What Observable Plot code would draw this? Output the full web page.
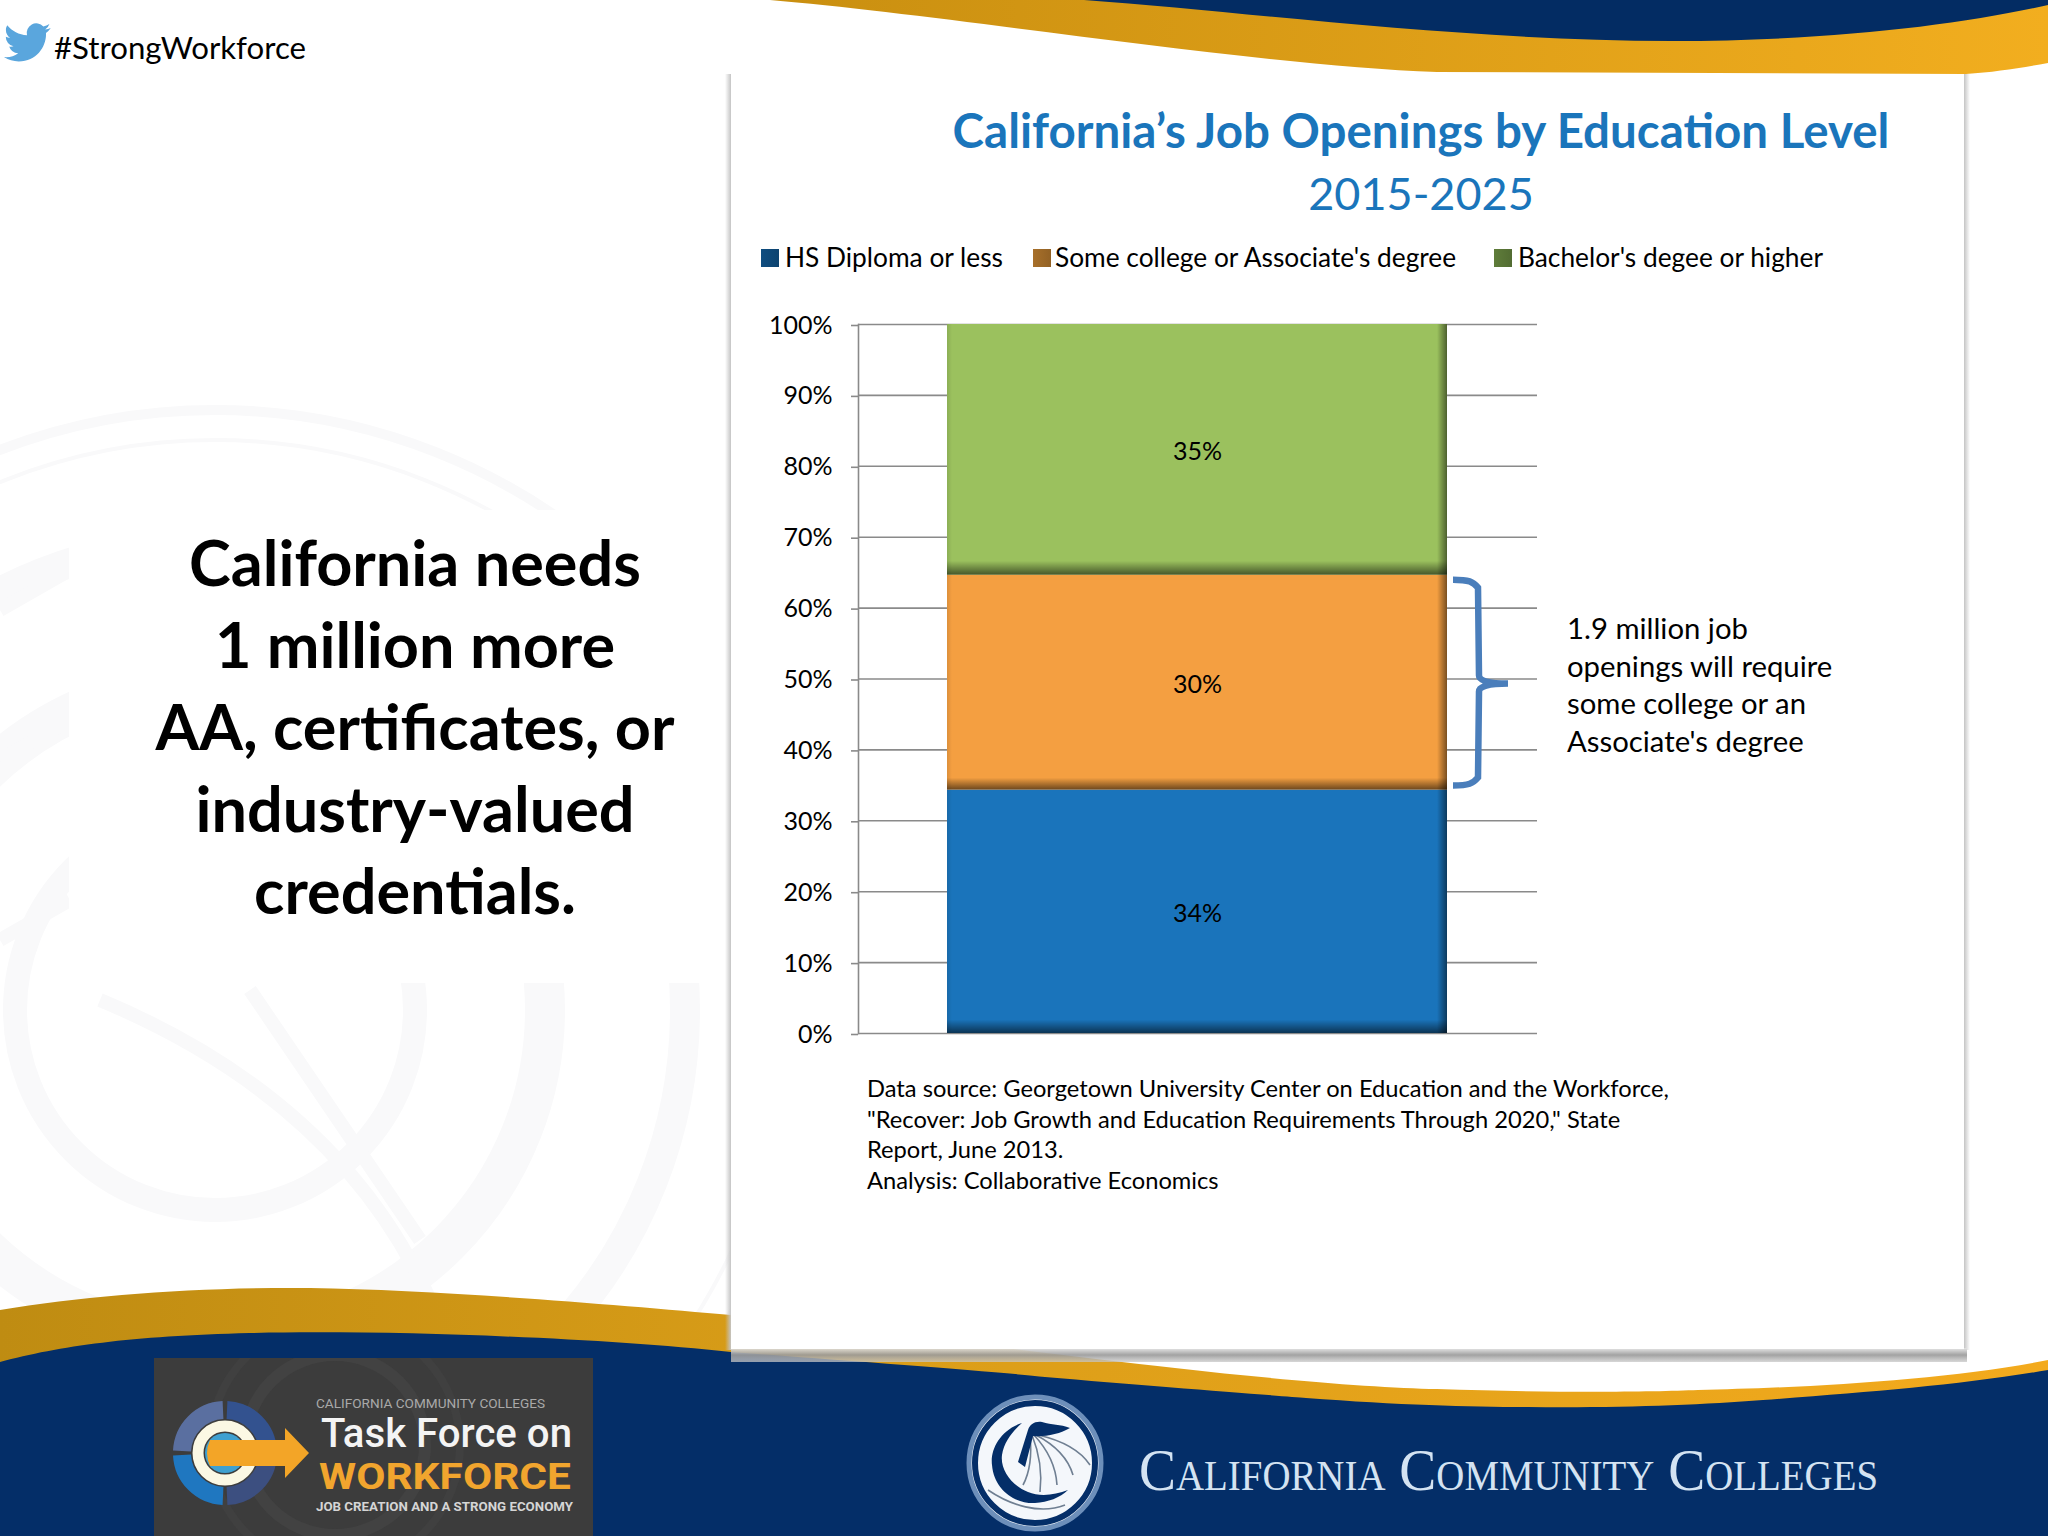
<!DOCTYPE html>
<html>
<head>
<meta charset="utf-8">
<script src="https://cdn.jsdelivr.net/npm/d3@7"></script>
<script src="https://cdn.jsdelivr.net/npm/@observablehq/plot@0.6"></script>
<style>
html,body{margin:0;padding:0;background:#fff;}
#slide{position:relative;width:2048px;height:1536px;overflow:hidden;font-family:Lato,"Open Sans",sans-serif;color:#000;}
#bg{position:absolute;left:0;top:0;}
#chart{position:absolute;left:0;top:0;}
.t{position:absolute;white-space:nowrap;}
#legend div{position:absolute;white-space:nowrap;font-size:26.3px;line-height:32px;top:241px;}
#legend i{position:absolute;top:249px;width:18px;height:18px;}
</style>
</head>
<body>
<div id="slide">
<svg id="bg" width="2048" height="1536" viewBox="0 0 2048 1536">
  <defs>
    <linearGradient id="shadeR" x1="0" x2="1" y1="0" y2="0">
      <stop offset="0.98" stop-color="#000" stop-opacity="0"/>
      <stop offset="1" stop-color="#000" stop-opacity="0.5"/>
    </linearGradient>
    <linearGradient id="shadeL" x1="0" x2="1" y1="0" y2="0">
      <stop offset="0" stop-color="#000" stop-opacity="0.1"/>
      <stop offset="0.01" stop-color="#000" stop-opacity="0"/>
    </linearGradient>
    <linearGradient id="shadeB" x1="0" x2="0" y1="0" y2="1">
      <stop offset="0.945" stop-color="#000" stop-opacity="0"/>
      <stop offset="1" stop-color="#000" stop-opacity="0.55"/>
    </linearGradient>
    <linearGradient id="goldTop" x1="0" x2="1" y1="0" y2="0">
      <stop offset="0" stop-color="#c98f10"/><stop offset="1" stop-color="#f2ae1f"/>
    </linearGradient>
    <linearGradient id="goldBot" x1="0" x2="1" y1="0" y2="0">
      <stop offset="0" stop-color="#bf8c12"/><stop offset="0.4" stop-color="#d99d18"/><stop offset="1" stop-color="#f3aa1d"/>
    </linearGradient>
    <linearGradient id="panelBottom" x1="0" x2="0" y1="0" y2="1">
      <stop offset="0" stop-color="#e6e6e6"/><stop offset="0.5" stop-color="#9a9a9a"/><stop offset="1" stop-color="#c8c8c8" stop-opacity="0.8"/>
    </linearGradient>
    <linearGradient id="panelLeft" x1="0" x2="1" y1="0" y2="0">
      <stop offset="0" stop-color="#c4c4c4" stop-opacity="0"/><stop offset="1" stop-color="#c4c4c4"/>
    </linearGradient>
    <linearGradient id="panelRight" x1="0" x2="1" y1="0" y2="0">
      <stop offset="0" stop-color="#c4c4c4"/><stop offset="1" stop-color="#c4c4c4" stop-opacity="0"/>
    </linearGradient>
    <clipPath id="leftClip"><rect x="0" y="380" width="730" height="960"/></clipPath>
    <clipPath id="logoClip"><rect x="154" y="1358" width="439" height="178"/></clipPath>
  </defs>
  <rect width="2048" height="1536" fill="#fff"/>
  <!-- faint seal watermark -->
  <g clip-path="url(#leftClip)" fill="none" stroke="#f9f9fa">
    <circle cx="215" cy="1010" r="600" stroke-width="10"/>
    <circle cx="215" cy="1010" r="570" stroke-width="4"/>
    <circle cx="215" cy="1010" r="470" stroke-width="30"/>
    <circle cx="215" cy="1010" r="330" stroke-width="40"/>
    <circle cx="215" cy="1010" r="200" stroke-width="24"/>
    <path d="M0,610 L70,570 M0,760 L70,720 M0,940 L70,900 M100,1000 Q340,1100 430,1300 M250,990 L420,1240" stroke-width="14"/>
  </g>
  <rect x="69" y="510" width="662" height="473" fill="#fff" opacity="0.9"/>
  <!-- waves -->
  <path d="M770,0 C950,15 1250,65 1437,72 L1966,74 C1995,72 2020,68 2048,63 L2048,0 Z" fill="url(#goldTop)"/>
  <path d="M1084,0 C1250,12 1450,40 1672,41 C1830,41 1960,25 2048,5 L2048,0 Z" fill="#032c63"/>
  <path d="M0,1310 C90,1295 200,1287 310,1288 C440,1290 620,1305 731,1315 C850,1327 1050,1355 1175,1368 C1280,1380 1380,1388 1437,1389 C1550,1393 1650,1392 1698,1390 C1800,1388 1950,1380 2048,1360 L2048,1536 L0,1536 Z" fill="url(#goldBot)"/>
  <path d="M0,1362 C60,1346 130,1336 250,1333 C400,1330 600,1338 731,1352 C850,1361 1000,1372 1045,1377 C1150,1386 1280,1396 1306,1398 C1400,1405 1470,1407 1528,1407 C1620,1408 1700,1405 1763,1400 C1870,1392 1960,1385 2048,1370 L2048,1536 L0,1536 Z" fill="#042e68"/>
  <!-- panel -->
  <rect x="725" y="74" width="6" height="1276" fill="url(#panelLeft)"/>
  <rect x="1964" y="74" width="6" height="1276" fill="url(#panelRight)"/>
  <rect x="731" y="1348" width="1236" height="14" fill="url(#panelBottom)" opacity="0.92"/>
  <rect x="731" y="74" width="1233" height="1275" fill="#fff"/>
  <!-- twitter bird -->
  <g transform="translate(4,19) scale(1.95)">
    <path fill="#5aa6dd" d="M23.953 4.57a10 10 0 01-2.825.775 4.958 4.958 0 002.163-2.723c-.951.555-2.005.959-3.127 1.184a4.92 4.92 0 00-8.384 4.482C7.69 8.095 4.067 6.13 1.64 3.162a4.822 4.822 0 00-.666 2.475c0 1.71.87 3.213 2.188 4.096a4.904 4.904 0 01-2.228-.616v.06a4.923 4.923 0 003.946 4.827 4.996 4.996 0 01-2.212.085 4.936 4.936 0 004.604 3.417 9.867 9.867 0 01-6.102 2.105c-.39 0-.779-.023-1.17-.067a13.995 13.995 0 007.557 2.209c9.053 0 13.998-7.496 13.998-13.985 0-.21 0-.42-.015-.63A9.935 9.935 0 0024 4.59z"/>
  </g>
  <!-- task force logo -->
  <rect x="154" y="1358" width="439" height="178" fill="#3c3c3c"/>
  <g clip-path="url(#logoClip)">
    <circle cx="335" cy="1445" r="90" fill="none" stroke="#424242" stroke-width="12"/>
    <circle cx="335" cy="1445" r="125" fill="none" stroke="#404040" stroke-width="8"/>
  </g>
  <g fill="none" stroke-width="18">
    <path d="M223,1410 A43,43 0 0 0 182,1451" stroke="#5a6fa0"/>
    <path d="M227,1410 A43,43 0 0 1 268,1451" stroke="#33528f"/>
    <path d="M182,1455 A43,43 0 0 0 223,1496" stroke="#1f77c0"/>
    <path d="M227,1496 A43,43 0 0 0 268,1455" stroke="#3c4f80"/>
  </g>
  <circle cx="225" cy="1453" r="20" fill="#3fa0d0"/>
  <circle cx="225" cy="1453" r="27" fill="none" stroke="#fbf8e4" stroke-width="11"/>
  <path d="M210,1440 H285 V1428 L309,1453 L285,1478 V1466 H210 Q204,1453 210,1440 Z" fill="#f3a527"/>
  <g font-family="Roboto,Lato,sans-serif">
    <text x="316" y="1408" font-size="13" fill="#a9a9a9" textLength="229" lengthAdjust="spacingAndGlyphs">CALIFORNIA COMMUNITY COLLEGES</text>
    <text x="321" y="1447" font-size="40" fill="#f4f4f4" font-weight="500" textLength="251" lengthAdjust="spacingAndGlyphs">Task Force on</text>
    <text x="319" y="1489" font-size="36" fill="#f1a52e" font-weight="700" textLength="252" lengthAdjust="spacingAndGlyphs">WORKFORCE</text>
    <text x="316" y="1511" font-size="13" fill="#d5d5d5" font-weight="700" textLength="257" lengthAdjust="spacingAndGlyphs">JOB CREATION AND A STRONG ECONOMY</text>
  </g>
  <!-- seal -->
  <circle cx="1035" cy="1463" r="66" fill="#f4f7fb" stroke="#6d8fba" stroke-width="5"/>
  <circle cx="1035" cy="1463" r="60" fill="none" stroke="#042e68" stroke-width="6"/>
  <g fill="none" stroke="#6f7f92" stroke-width="1.6">
    <path d="M1030,1435 C1032,1455 1030,1472 1023,1485"/>
    <path d="M1032,1435 C1040,1455 1042,1475 1040,1492"/>
    <path d="M1034,1435 C1048,1450 1056,1468 1057,1485"/>
    <path d="M1036,1435 C1055,1445 1068,1458 1073,1475"/>
    <path d="M1038,1435 C1060,1440 1080,1450 1090,1465"/>
    <path d="M988,1490 C1010,1505 1040,1515 1065,1505"/>
  </g>
  <path d="M1022,1423 C1000,1430 990,1450 992,1465 C994,1490 1015,1504 1035,1503 C1048,1502 1060,1498 1068,1490 C1055,1495 1040,1497 1028,1492 C1012,1486 1000,1470 1002,1455 C1004,1442 1012,1432 1022,1423 Z" fill="#042e68"/>
  <path d="M1028,1430 L1018,1462 L1025,1467 L1033,1436 C1045,1437 1060,1434 1070,1428 C1060,1424 1052,1425 1042,1422 C1035,1421 1030,1424 1028,1430 Z" fill="#042e68"/>
  <text x="1139" y="1490" font-family="Liberation Serif,serif" font-size="60" fill="#d4e3f2" style="font-variant:small-caps" textLength="739" lengthAdjust="spacingAndGlyphs">California Community Colleges</text>
</svg>

<div id="chart"></div>

<div class="t" id="hash" style="left:54px;top:27px;font-size:31.2px;line-height:40px;">#StrongWorkforce</div>
<div class="t" style="left:731px;width:1380px;text-align:center;top:97px;font-size:47.5px;line-height:66px;font-weight:700;color:#1a75bb;">California’s Job Openings by Education Level</div>
<div class="t" style="left:731px;width:1380px;text-align:center;top:160px;font-size:45px;line-height:66px;color:#1a75bb;">2015-2025</div>
<div id="legend"></div>
<div class="t" id="lead" style="left:100px;width:630px;top:521px;text-align:center;font-size:63px;line-height:82px;font-weight:700;"></div>
<div class="t" id="note" style="left:1567px;top:609px;font-size:29.3px;line-height:37.6px;"></div>
<div class="t" id="source" style="left:867px;top:1073px;font-size:23.7px;line-height:30.6px;"></div>
</div>

<script>
const category = ["California"];
const seriesNames = ["HS Diploma or less", "Some college or Associate's degree", "Bachelor's degee or higher"];
const seriesValues = [34, 30, 35];
const seriesColors = ["#1a74bb", "#f49f41", "#9bc15e"];
const legendColors = ["#0f4d80", "#a8702a", "#5f7d3a"];
const yTicks = [0, 0.1, 0.2, 0.3, 0.4, 0.5, 0.6, 0.7, 0.8, 0.9, 1];
const leadLines = ["California needs", "1 million more", "AA, certificates, or", "industry-valued", "credentials."];
const noteLines = ["1.9 million job", "openings will require", "some college or an", "Associate's degree"];
const sourceLines = [
  "Data source: Georgetown University Center on Education and the Workforce,",
  "\"Recover: Job Growth and Education Requirements Through 2020,\" State",
  "Report, June 2013.",
  "Analysis: Collaborative Economics"
];

const rows = seriesNames.map((s, i) => ({cat: category[0], series: s, value: seriesValues[i]}));
const stackOpts = {x: "cat", y: "value", z: "series", offset: "normalize", order: null};
const total = d3.sum(seriesValues);
const braceLow = seriesValues[0] / total, braceHigh = (seriesValues[0] + seriesValues[1]) / total;

const chart = Plot.plot({
  width: 2048,
  height: 1536,
  marginLeft: 858,
  marginRight: 511,
  marginTop: 324,
  marginBottom: 503,
  style: {background: "transparent", fontFamily: "Lato, sans-serif", color: "#000"},
  x: {domain: category, padding: 0.151, axis: null},
  y: {domain: [0, 1]},
  color: {domain: seriesNames, range: seriesColors},
  marks: [
    Plot.ruleY(yTicks, {stroke: "#8a8a8a", strokeWidth: 1.6}),
    Plot.frame({anchor: "left", stroke: "#8a8a8a", strokeWidth: 1.6}),
    Plot.axisY({ticks: yTicks, tickFormat: d3.format(".0%"), tickSize: 7, tickPadding: 19, fontSize: 25, dy: 1, stroke: "#8a8a8a", strokeWidth: 1.6, label: null, color: "#000", fill: "#000"}),
    Plot.barY(rows, Plot.stackY({...stackOpts, fill: "series"})),
    Plot.barY(rows, Plot.stackY({...stackOpts, fill: "url(#shadeR)"})),
    Plot.barY(rows, Plot.stackY({...stackOpts, fill: "url(#shadeL)"})),
    Plot.barY(rows, Plot.stackY({...stackOpts, fill: "url(#shadeB)"})),
    Plot.text(rows, Plot.stackY({...stackOpts, text: d => d.value + "%", fontSize: 25, dy: 2, fill: "#000"})),
    // the brace spans the middle segment on the y scale
    (index, {y}) => {
      const x0 = 1453, x1 = 1479, tip = 1508, top = y(braceHigh) + 5, bot = y(braceLow) - 4, mid = (top + bot) / 2 + 1;
      const d = `M${x0},${top} C${x0 + 16},${top} ${x1 - 6},${top + 2} ${x1 - 1},${top + 8} L${x1},${mid - 8} Q${x1},${mid} ${tip},${mid} M${tip},${mid} Q${x1},${mid} ${x1},${mid + 8} L${x1 - 1},${bot - 8} C${x1 - 6},${bot - 2} ${x0 + 16},${bot} ${x0},${bot}`;
      return d3.create("svg:path").attr("d", d).attr("fill", "none").attr("stroke", "#4a7ebb").attr("stroke-width", 6.5).node();
    }
  ]
});
document.getElementById("chart").appendChild(chart);

const legend = document.getElementById("legend");
const swatchX = [761, 1033, 1494], labelX = [785, 1055, 1518];
seriesNames.forEach((s, i) => {
  const sw = document.createElement("i");
  sw.style.left = swatchX[i] + "px";
  sw.style.background = `linear-gradient(90deg, ${legendColors[i]}, ${d3.color(legendColors[i]).darker(0.4)})`;
  legend.appendChild(sw);
  const l = document.createElement("div");
  l.style.left = labelX[i] + "px";
  l.textContent = s;
  legend.appendChild(l);
});
const fill = (id, lines) => {
  const el = document.getElementById(id);
  lines.forEach(t => { const d = document.createElement("div"); d.textContent = t; el.appendChild(d); });
};
fill("lead", leadLines);
fill("note", noteLines);
fill("source", sourceLines);
</script>
</body>
</html>
